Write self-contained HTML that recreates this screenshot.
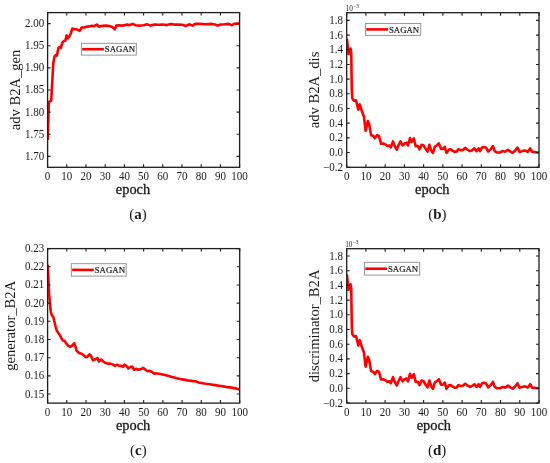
<!DOCTYPE html>
<html><head><meta charset="utf-8"><title>Training curves</title>
<style>
html,body{margin:0;padding:0;background:#fff;}
body{width:550px;height:463px;overflow:hidden;}
svg{display:block;}
#wrap{width:550px;height:463px;}
text{font-family:'Liberation Serif', 'Times New Roman', serif;fill:#1a1a1a;}
.t{font-size:11px;}
.ti{font-size:14.4px;stroke:#1a1a1a;stroke-width:0.3px;}
.tr{font-size:14.6px;}
.cap{font-size:15px;}
.lg{font-size:8.8px;stroke:#1a1a1a;stroke-width:0.2px;}
.ex{font-size:7.3px;}
</style></head>
<body>
<div id="wrap">
<svg width="550" height="463" viewBox="0 0 550 463">
<rect width="550" height="463" fill="#fff"/>
<clipPath id="clipa"><rect x="47.6" y="10.6" width="192" height="156.7"/></clipPath>
<polyline clip-path="url(#clipa)" points="47.8,139 48.8,102.2 51.2,100.7 52.5,77.4 53.3,63 54.5,56.5 55.7,55.1 56.8,55.6 58.5,47.9 59.7,47 60.9,47.9 62.3,42.7 64,40.9 65.4,40.6 66.6,35.4 67.8,38.3 69.2,36.6 70.6,34 72.3,28.5 74,29.2 76.1,29.2 78.2,30.2 79.6,30.9 81.7,27.5 83.9,27.5 86.5,26.8 89.1,26.4 91.7,25.7 94.3,26.2 96.9,24.5 99,26.8 101.2,26.1 102.7,25.9 105.5,25.6 108.2,25.9 110.2,26.2 112.3,27 114.7,29.3 116.4,25.6 119.1,25.2 121.8,25.6 125.2,25.1 127.3,24.5 128.9,25.2 132.7,23.9 135.5,25.2 139.5,25.6 143.6,25.2 147,24.3 150.5,25.6 154.5,24.5 158.6,24.8 162.7,24.5 166.8,25.1 170.9,23.9 174.3,24.6 178.2,24.5 182.3,24.8 186.1,25.9 189.1,24.3 192.5,25.6 195.2,23.9 200,23.9 205.5,24.3 210.9,23.9 215,24.5 217.7,25.6 220.5,24.5 224.5,24.3 228.6,23.9 232,25.2 234.1,23.9 238.2,23.5 239.6,23.6" fill="none" stroke="#ff0000" stroke-width="2.6" stroke-linejoin="round" stroke-linecap="round"/>
<path d="M47.6 167.3V164.3M47.6 12.6V15.6M66.8 167.3V164.3M66.8 12.6V15.6M86 167.3V164.3M86 12.6V15.6M105.2 167.3V164.3M105.2 12.6V15.6M124.4 167.3V164.3M124.4 12.6V15.6M143.6 167.3V164.3M143.6 12.6V15.6M162.8 167.3V164.3M162.8 12.6V15.6M182 167.3V164.3M182 12.6V15.6M201.2 167.3V164.3M201.2 12.6V15.6M220.4 167.3V164.3M220.4 12.6V15.6M239.6 167.3V164.3M239.6 12.6V15.6M47.6 23.6H50.6M239.6 23.6H236.6M47.6 45.73H50.6M239.6 45.73H236.6M47.6 67.86H50.6M239.6 67.86H236.6M47.6 89.99H50.6M239.6 89.99H236.6M47.6 112.12H50.6M239.6 112.12H236.6M47.6 134.25H50.6M239.6 134.25H236.6M47.6 156.38H50.6M239.6 156.38H236.6" stroke="#1e1e1e" stroke-width="1.1" fill="none"/>
<rect x="47.6" y="12.6" width="192" height="154.7" fill="none" stroke="#1e1e1e" stroke-width="1.3"/>
<text transform="translate(44.2 27.1) scale(1 1.07)" text-anchor="end" class="t">2.00</text>
<text transform="translate(44.2 49.23) scale(1 1.07)" text-anchor="end" class="t">1.95</text>
<text transform="translate(44.2 71.36) scale(1 1.07)" text-anchor="end" class="t">1.90</text>
<text transform="translate(44.2 93.49) scale(1 1.07)" text-anchor="end" class="t">1.85</text>
<text transform="translate(44.2 115.62) scale(1 1.07)" text-anchor="end" class="t">1.80</text>
<text transform="translate(44.2 137.75) scale(1 1.07)" text-anchor="end" class="t">1.75</text>
<text transform="translate(44.2 159.88) scale(1 1.07)" text-anchor="end" class="t">1.70</text>
<text transform="translate(47.6 179.8) scale(1 1.07)" text-anchor="middle" class="t">0</text>
<text transform="translate(66.8 179.8) scale(1 1.07)" text-anchor="middle" class="t">10</text>
<text transform="translate(86 179.8) scale(1 1.07)" text-anchor="middle" class="t">20</text>
<text transform="translate(105.2 179.8) scale(1 1.07)" text-anchor="middle" class="t">30</text>
<text transform="translate(124.4 179.8) scale(1 1.07)" text-anchor="middle" class="t">40</text>
<text transform="translate(143.6 179.8) scale(1 1.07)" text-anchor="middle" class="t">50</text>
<text transform="translate(162.8 179.8) scale(1 1.07)" text-anchor="middle" class="t">60</text>
<text transform="translate(182 179.8) scale(1 1.07)" text-anchor="middle" class="t">70</text>
<text transform="translate(201.2 179.8) scale(1 1.07)" text-anchor="middle" class="t">80</text>
<text transform="translate(220.4 179.8) scale(1 1.07)" text-anchor="middle" class="t">90</text>
<text transform="translate(239.6 179.8) scale(1 1.07)" text-anchor="middle" class="t">100</text>
<text x="133" y="194.3" text-anchor="middle" class="ti">epoch</text>
<text transform="translate(19.9 90) rotate(-90)" text-anchor="middle" class="tr">adv B2A_gen</text>
<text x="138" y="219.2" text-anchor="middle" class="cap">(<tspan font-weight="bold">a</tspan>)</text>
<rect x="81.4" y="43.3" width="54.9" height="11.8" fill="#fff" stroke="#8a8a8a" stroke-width="0.9"/>
<path d="M82.2 49.2H103.9" stroke="#ff0000" stroke-width="2.6"/>
<text x="104.8" y="52.4" class="lg">SAGAN</text>
<clipPath id="clipb"><rect x="346.7" y="10.7" width="192.3" height="156.6"/></clipPath>
<polyline clip-path="url(#clipb)" points="347,39.5 348.5,54 350.5,48.5 351.2,52 351.8,90 352.3,98.3 353.8,100.6 356,100.3 358.3,109.6 359.8,104.4 361.8,111.1 363.9,116.4 365.6,130.8 367.8,121 369.3,124.7 371.1,135.3 373.4,136.1 374.9,138.3 377.2,135 379,136.1 381,143.6 383.2,143.6 385.5,144.4 387,145.9 389.6,145.6 390.8,147.4 393,141.4 395,146.6 396.8,149.7 398.4,145.5 400.5,141.4 402.5,145.5 404.5,143.4 406.6,142.7 408,145.5 410,138 411.6,142 413.8,138.4 415.7,146.1 417.9,146.1 419.5,149.3 421.6,144.8 423.6,145.5 425.7,148.9 427.5,151.6 429.4,144.8 431.1,150.2 432.9,153 434.8,146.8 436.6,145.5 438.9,143.4 441.1,148.9 443,148.9 444.8,146.8 446.5,153 448.9,149.5 450.6,149.3 453,150.9 455,152 456.6,151.6 458.4,149.3 460.5,150.2 462.5,150.2 465.2,147.9 467.3,149.5 469.8,151.1 471.8,150.5 474.5,148.4 476.6,151.1 478.6,148.4 480,151.1 482,147.5 484.1,147 486.1,147.7 488.2,151.5 490.9,149.1 493,146.1 494.7,151.1 497,152.5 499.8,152.5 502.5,151.1 505.2,151.8 508,149.8 510.7,151.8 512.7,152.9 515.5,150.2 517.5,147.5 519.5,152.1 522.3,151.1 525,150.5 527.7,151.8 530.2,148.4 532.1,151.8 534.5,152.1 537.3,152.5 538.9,152.5" fill="none" stroke="#ff0000" stroke-width="2.6" stroke-linejoin="round" stroke-linecap="round"/>
<path d="M346.7 167.3V164.3M346.7 12.7V15.7M365.93 167.3V164.3M365.93 12.7V15.7M385.16 167.3V164.3M385.16 12.7V15.7M404.39 167.3V164.3M404.39 12.7V15.7M423.62 167.3V164.3M423.62 12.7V15.7M442.85 167.3V164.3M442.85 12.7V15.7M462.08 167.3V164.3M462.08 12.7V15.7M481.31 167.3V164.3M481.31 12.7V15.7M500.54 167.3V164.3M500.54 12.7V15.7M519.77 167.3V164.3M519.77 12.7V15.7M539 167.3V164.3M539 12.7V15.7M346.7 20.4H349.7M539 20.4H536M346.7 35.08H349.7M539 35.08H536M346.7 49.76H349.7M539 49.76H536M346.7 64.44H349.7M539 64.44H536M346.7 79.12H349.7M539 79.12H536M346.7 93.8H349.7M539 93.8H536M346.7 108.48H349.7M539 108.48H536M346.7 123.16H349.7M539 123.16H536M346.7 137.84H349.7M539 137.84H536M346.7 152.52H349.7M539 152.52H536M346.7 167.2H349.7M539 167.2H536" stroke="#1e1e1e" stroke-width="1.1" fill="none"/>
<rect x="346.7" y="12.7" width="192.3" height="154.6" fill="none" stroke="#1e1e1e" stroke-width="1.3"/>
<text transform="translate(343.1 23.9) scale(1 1.07)" text-anchor="end" class="t">1.8</text>
<text transform="translate(343.1 38.58) scale(1 1.07)" text-anchor="end" class="t">1.6</text>
<text transform="translate(343.1 53.26) scale(1 1.07)" text-anchor="end" class="t">1.4</text>
<text transform="translate(343.1 67.94) scale(1 1.07)" text-anchor="end" class="t">1.2</text>
<text transform="translate(343.1 82.62) scale(1 1.07)" text-anchor="end" class="t">1.0</text>
<text transform="translate(343.1 97.3) scale(1 1.07)" text-anchor="end" class="t">0.8</text>
<text transform="translate(343.1 111.98) scale(1 1.07)" text-anchor="end" class="t">0.6</text>
<text transform="translate(343.1 126.66) scale(1 1.07)" text-anchor="end" class="t">0.4</text>
<text transform="translate(343.1 141.34) scale(1 1.07)" text-anchor="end" class="t">0.2</text>
<text transform="translate(343.1 156.02) scale(1 1.07)" text-anchor="end" class="t">0.0</text>
<text transform="translate(343.1 170.7) scale(1 1.07)" text-anchor="end" class="t">&#8722;0.2</text>
<text transform="translate(346.7 179.8) scale(1 1.07)" text-anchor="middle" class="t">0</text>
<text transform="translate(365.93 179.8) scale(1 1.07)" text-anchor="middle" class="t">10</text>
<text transform="translate(385.16 179.8) scale(1 1.07)" text-anchor="middle" class="t">20</text>
<text transform="translate(404.39 179.8) scale(1 1.07)" text-anchor="middle" class="t">30</text>
<text transform="translate(423.62 179.8) scale(1 1.07)" text-anchor="middle" class="t">40</text>
<text transform="translate(442.85 179.8) scale(1 1.07)" text-anchor="middle" class="t">50</text>
<text transform="translate(462.08 179.8) scale(1 1.07)" text-anchor="middle" class="t">60</text>
<text transform="translate(481.31 179.8) scale(1 1.07)" text-anchor="middle" class="t">70</text>
<text transform="translate(500.54 179.8) scale(1 1.07)" text-anchor="middle" class="t">80</text>
<text transform="translate(519.77 179.8) scale(1 1.07)" text-anchor="middle" class="t">90</text>
<text transform="translate(539 179.8) scale(1 1.07)" text-anchor="middle" class="t">100</text>
<text x="432.3" y="194.3" text-anchor="middle" class="ti">epoch</text>
<text transform="translate(319.2 90) rotate(-90)" text-anchor="middle" class="tr">adv B2A_dis</text>
<text x="437.3" y="219.2" text-anchor="middle" class="cap">(<tspan font-weight="bold">b</tspan>)</text>
<rect x="365.5" y="23.4" width="55.2" height="12" fill="#fff" stroke="#8a8a8a" stroke-width="0.9"/>
<path d="M366.3 29.4H388" stroke="#ff0000" stroke-width="2.6"/>
<text x="388.9" y="32.6" class="lg">SAGAN</text>
<text x="345.7" y="10.9" class="ex">10<tspan dx="0.2" dy="-2.6" font-size="5.4">&#8722;3</tspan></text>
<clipPath id="clipc"><rect x="47.6" y="246.6" width="192.1" height="156.5"/></clipPath>
<polyline clip-path="url(#clipc)" points="47.8,265.8 48.2,272.9 48.6,283.3 49.1,293.6 49.9,302.7 50.8,311.7 51.6,314.8 53.3,317 54.6,322.5 55.7,326.8 56.8,330.6 58.2,332.8 59.8,335 61.5,338.3 62.9,340.5 64.7,340.8 66.4,343.7 68,345.6 70.2,347 72.4,345.4 74.2,343.2 75.3,345.9 76.4,350.3 78.4,352.5 80.5,353.5 81.7,353.8 83.6,355.3 85.8,357.2 87.3,356.7 89.5,354.3 90.9,355.7 93.1,360.4 95.3,359.2 97.5,358.2 98.9,361.5 101.1,359.6 103.3,361.5 105.5,363 107.6,363.6 110.5,363.6 112.7,364.4 114.9,365.9 117.1,364.7 119.3,365.9 121.5,365.9 122.9,366.9 124.4,364.7 126.5,365.9 128.3,368.4 130.2,366.9 132.1,366.5 134.1,369.8 136,368.8 138.2,369.8 141.1,369.1 143.3,367.9 145.5,369.8 147.6,371.3 149.8,370.8 152,372 154.2,373.7 156.4,373.2 157.4,373.4 160.5,374 165.9,375.2 171.4,376.8 176.8,378.2 182.3,379.4 187.7,380.4 193.2,381.1 195.9,381.4 198.6,382.5 204.1,383.5 209.5,384.2 215,385.1 220.5,386 225.9,386.9 231.4,387.6 236.8,388.6 238.6,389.3 239.7,389.6" fill="none" stroke="#ff0000" stroke-width="2.6" stroke-linejoin="round" stroke-linecap="round"/>
<path d="M47.6 403.1V400.1M47.6 248.6V251.6M66.81 403.1V400.1M66.81 248.6V251.6M86.02 403.1V400.1M86.02 248.6V251.6M105.23 403.1V400.1M105.23 248.6V251.6M124.44 403.1V400.1M124.44 248.6V251.6M143.65 403.1V400.1M143.65 248.6V251.6M162.86 403.1V400.1M162.86 248.6V251.6M182.07 403.1V400.1M182.07 248.6V251.6M201.28 403.1V400.1M201.28 248.6V251.6M220.49 403.1V400.1M220.49 248.6V251.6M239.7 403.1V400.1M239.7 248.6V251.6M47.6 248.6H50.6M239.7 248.6H236.7M47.6 266.78H50.6M239.7 266.78H236.7M47.6 284.96H50.6M239.7 284.96H236.7M47.6 303.14H50.6M239.7 303.14H236.7M47.6 321.32H50.6M239.7 321.32H236.7M47.6 339.5H50.6M239.7 339.5H236.7M47.6 357.68H50.6M239.7 357.68H236.7M47.6 375.86H50.6M239.7 375.86H236.7M47.6 394.04H50.6M239.7 394.04H236.7" stroke="#1e1e1e" stroke-width="1.1" fill="none"/>
<rect x="47.6" y="248.6" width="192.1" height="154.5" fill="none" stroke="#1e1e1e" stroke-width="1.3"/>
<text transform="translate(44.2 252.1) scale(1 1.07)" text-anchor="end" class="t">0.23</text>
<text transform="translate(44.2 270.28) scale(1 1.07)" text-anchor="end" class="t">0.22</text>
<text transform="translate(44.2 288.46) scale(1 1.07)" text-anchor="end" class="t">0.21</text>
<text transform="translate(44.2 306.64) scale(1 1.07)" text-anchor="end" class="t">0.20</text>
<text transform="translate(44.2 324.82) scale(1 1.07)" text-anchor="end" class="t">0.19</text>
<text transform="translate(44.2 343) scale(1 1.07)" text-anchor="end" class="t">0.18</text>
<text transform="translate(44.2 361.18) scale(1 1.07)" text-anchor="end" class="t">0.17</text>
<text transform="translate(44.2 379.36) scale(1 1.07)" text-anchor="end" class="t">0.16</text>
<text transform="translate(44.2 397.54) scale(1 1.07)" text-anchor="end" class="t">0.15</text>
<text transform="translate(47.6 415.8) scale(1 1.07)" text-anchor="middle" class="t">0</text>
<text transform="translate(66.81 415.8) scale(1 1.07)" text-anchor="middle" class="t">10</text>
<text transform="translate(86.02 415.8) scale(1 1.07)" text-anchor="middle" class="t">20</text>
<text transform="translate(105.23 415.8) scale(1 1.07)" text-anchor="middle" class="t">30</text>
<text transform="translate(124.44 415.8) scale(1 1.07)" text-anchor="middle" class="t">40</text>
<text transform="translate(143.65 415.8) scale(1 1.07)" text-anchor="middle" class="t">50</text>
<text transform="translate(162.86 415.8) scale(1 1.07)" text-anchor="middle" class="t">60</text>
<text transform="translate(182.07 415.8) scale(1 1.07)" text-anchor="middle" class="t">70</text>
<text transform="translate(201.28 415.8) scale(1 1.07)" text-anchor="middle" class="t">80</text>
<text transform="translate(220.49 415.8) scale(1 1.07)" text-anchor="middle" class="t">90</text>
<text transform="translate(239.7 415.8) scale(1 1.07)" text-anchor="middle" class="t">100</text>
<text x="133.1" y="430.4" text-anchor="middle" class="ti">epoch</text>
<text transform="translate(15.3 325.8) rotate(-90)" text-anchor="middle" class="tr">generator_B2A</text>
<text x="138.4" y="455" text-anchor="middle" class="cap">(<tspan font-weight="bold">c</tspan>)</text>
<rect x="71.3" y="263.7" width="54.9" height="12.4" fill="#fff" stroke="#8a8a8a" stroke-width="0.9"/>
<path d="M72.1 269.9H93.8" stroke="#ff0000" stroke-width="2.6"/>
<text x="94.7" y="273.1" class="lg">SAGAN</text>
<clipPath id="clipd"><rect x="346.7" y="246.7" width="192.3" height="156.4"/></clipPath>
<polyline clip-path="url(#clipd)" points="347,275.3 348.5,289.8 350.5,284.3 351.2,287.8 351.8,325.8 352.3,334.1 353.8,336.4 356,336.1 358.3,345.4 359.8,340.2 361.8,346.9 363.9,352.2 365.6,366.6 367.8,356.8 369.3,360.5 371.1,371.1 373.4,371.9 374.9,374.1 377.2,370.8 379,371.9 381,379.4 383.2,379.4 385.5,380.2 387,381.7 389.6,381.4 390.8,383.2 393,377.2 395,382.4 396.8,385.5 398.4,381.3 400.5,377.2 402.5,381.3 404.5,379.2 406.6,378.5 408,381.3 410,373.8 411.6,377.8 413.8,374.2 415.7,381.9 417.9,381.9 419.5,385.1 421.6,380.6 423.6,381.3 425.7,384.7 427.5,387.4 429.4,380.6 431.1,386 432.9,388.8 434.8,382.6 436.6,381.3 438.9,379.2 441.1,384.7 443,384.7 444.8,382.6 446.5,388.8 448.9,385.3 450.6,385.1 453,386.7 455,387.8 456.6,387.4 458.4,385.1 460.5,386 462.5,386 465.2,383.7 467.3,385.3 469.8,386.9 471.8,386.3 474.5,384.2 476.6,386.9 478.6,384.2 480,386.9 482,383.3 484.1,382.8 486.1,383.5 488.2,387.3 490.9,384.9 493,381.9 494.7,386.9 497,388.3 499.8,388.3 502.5,386.9 505.2,387.6 508,385.6 510.7,387.6 512.7,388.7 515.5,386 517.5,383.3 519.5,387.9 522.3,386.9 525,386.3 527.7,387.6 530.2,384.2 532.1,387.6 534.5,387.9 537.3,388.3 538.9,388.3" fill="none" stroke="#ff0000" stroke-width="2.6" stroke-linejoin="round" stroke-linecap="round"/>
<path d="M346.7 403.1V400.1M346.7 248.7V251.7M365.93 403.1V400.1M365.93 248.7V251.7M385.16 403.1V400.1M385.16 248.7V251.7M404.39 403.1V400.1M404.39 248.7V251.7M423.62 403.1V400.1M423.62 248.7V251.7M442.85 403.1V400.1M442.85 248.7V251.7M462.08 403.1V400.1M462.08 248.7V251.7M481.31 403.1V400.1M481.31 248.7V251.7M500.54 403.1V400.1M500.54 248.7V251.7M519.77 403.1V400.1M519.77 248.7V251.7M539 403.1V400.1M539 248.7V251.7M346.7 256H349.7M539 256H536M346.7 270.7H349.7M539 270.7H536M346.7 285.4H349.7M539 285.4H536M346.7 300.1H349.7M539 300.1H536M346.7 314.8H349.7M539 314.8H536M346.7 329.5H349.7M539 329.5H536M346.7 344.2H349.7M539 344.2H536M346.7 358.9H349.7M539 358.9H536M346.7 373.6H349.7M539 373.6H536M346.7 388.3H349.7M539 388.3H536M346.7 403H349.7M539 403H536" stroke="#1e1e1e" stroke-width="1.1" fill="none"/>
<rect x="346.7" y="248.7" width="192.3" height="154.4" fill="none" stroke="#1e1e1e" stroke-width="1.3"/>
<text transform="translate(343.1 259.5) scale(1 1.07)" text-anchor="end" class="t">1.8</text>
<text transform="translate(343.1 274.2) scale(1 1.07)" text-anchor="end" class="t">1.6</text>
<text transform="translate(343.1 288.9) scale(1 1.07)" text-anchor="end" class="t">1.4</text>
<text transform="translate(343.1 303.6) scale(1 1.07)" text-anchor="end" class="t">1.2</text>
<text transform="translate(343.1 318.3) scale(1 1.07)" text-anchor="end" class="t">1.0</text>
<text transform="translate(343.1 333) scale(1 1.07)" text-anchor="end" class="t">0.8</text>
<text transform="translate(343.1 347.7) scale(1 1.07)" text-anchor="end" class="t">0.6</text>
<text transform="translate(343.1 362.4) scale(1 1.07)" text-anchor="end" class="t">0.4</text>
<text transform="translate(343.1 377.1) scale(1 1.07)" text-anchor="end" class="t">0.2</text>
<text transform="translate(343.1 391.8) scale(1 1.07)" text-anchor="end" class="t">0.0</text>
<text transform="translate(343.1 406.5) scale(1 1.07)" text-anchor="end" class="t">&#8722;0.2</text>
<text transform="translate(346.7 415.8) scale(1 1.07)" text-anchor="middle" class="t">0</text>
<text transform="translate(365.93 415.8) scale(1 1.07)" text-anchor="middle" class="t">10</text>
<text transform="translate(385.16 415.8) scale(1 1.07)" text-anchor="middle" class="t">20</text>
<text transform="translate(404.39 415.8) scale(1 1.07)" text-anchor="middle" class="t">30</text>
<text transform="translate(423.62 415.8) scale(1 1.07)" text-anchor="middle" class="t">40</text>
<text transform="translate(442.85 415.8) scale(1 1.07)" text-anchor="middle" class="t">50</text>
<text transform="translate(462.08 415.8) scale(1 1.07)" text-anchor="middle" class="t">60</text>
<text transform="translate(481.31 415.8) scale(1 1.07)" text-anchor="middle" class="t">70</text>
<text transform="translate(500.54 415.8) scale(1 1.07)" text-anchor="middle" class="t">80</text>
<text transform="translate(519.77 415.8) scale(1 1.07)" text-anchor="middle" class="t">90</text>
<text transform="translate(539 415.8) scale(1 1.07)" text-anchor="middle" class="t">100</text>
<text x="433.9" y="430.2" text-anchor="middle" class="ti">epoch</text>
<text transform="translate(319.4 325.9) rotate(-90)" text-anchor="middle" class="tr">discriminator_B2A</text>
<text x="437.2" y="455" text-anchor="middle" class="cap">(<tspan font-weight="bold">d</tspan>)</text>
<rect x="364.5" y="262.3" width="55.2" height="12.8" fill="#fff" stroke="#8a8a8a" stroke-width="0.9"/>
<path d="M365.3 268.7H387" stroke="#ff0000" stroke-width="2.6"/>
<text x="387.9" y="271.9" class="lg">SAGAN</text>
<text x="345.2" y="246.9" class="ex">10<tspan dx="0.2" dy="-2.6" font-size="5.4">&#8722;3</tspan></text>
</svg>
</div>
</body></html>
